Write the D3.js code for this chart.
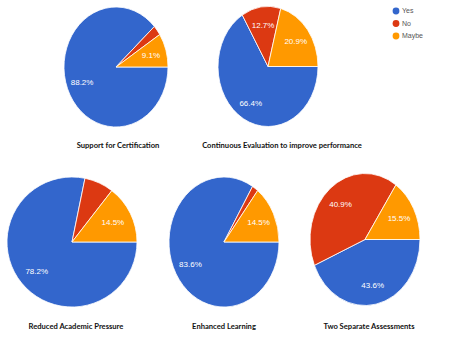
<!DOCTYPE html>
<html>
<head>
<meta charset="utf-8">
<script src="https://cdn.jsdelivr.net/npm/d3@7"></script>
<style>
  html, body { margin: 0; padding: 0; background: #ffffff; }
  svg { display: block; }
</style>
</head>
<body>
<svg id="chart" width="474" height="342"></svg>
<script>
// ---- data ----
const categories = ["Yes", "No", "Maybe"];
const chartTitles = [
  "Support  for Certification",
  "Continuous  Evaluation to improve performance",
  "Reduced Academic Pressure",
  "Enhanced Learning",
  "Two Separate Assessments"
];
const yesValues   = [88.2, 66.4, 78.2, 83.6, 43.6];
const noValues    = [2.7, 12.7, 7.3, 1.8, 40.9];
const maybeValues = [9.1, 20.9, 14.5, 14.5, 15.5];

// ---- layout / style ----
const colors = d3.scaleOrdinal().domain(categories).range(["#3366cc", "#dc3912", "#ff9900"]);
const layout = [
  { cx: 116, cy: 67,  rx: 52, ry: 60, tx: 118, ty: 148 },
  { cx: 268, cy: 66.5, rx: 50, ry: 60, tx: 282, ty: 148 },
  { cx: 72,  cy: 242, rx: 65, ry: 65, tx: 76,  ty: 329 },
  { cx: 224, cy: 242, rx: 55, ry: 65, tx: 224, ty: 329 },
  { cx: 365, cy: 239.5, rx: 55, ry: 66, tx: 369, ty: 329 }
];

const svg = d3.select("#chart");

const pie = d3.pie()
  .sort(null)
  .value(d => d.value)
  .startAngle(Math.PI / 2)
  .endAngle(Math.PI / 2 + 2 * Math.PI);

chartTitles.forEach((title, i) => {
  const L = layout[i];
  const data = categories.map((c, k) => ({
    cat: c,
    value: [yesValues, noValues, maybeValues][k][i]
  }));
  const arcs = pie(data);
  const R = L.ry;
  const arc = d3.arc().innerRadius(0).outerRadius(R);
  const labelArc = d3.arc().innerRadius(R * 0.7).outerRadius(R * 0.7);
  const sx = L.rx / L.ry;

  const g = svg.append("g")
    .attr("transform", `translate(${L.cx},${L.cy})`);

  g.append("g")
    .attr("transform", `scale(${sx},1)`)
    .selectAll("path")
    .data(arcs)
    .join("path")
    .attr("d", arc)
    .attr("fill", d => colors(d.data.cat))
    .attr("stroke", "#ffffff")
    .attr("stroke-width", 0.8)
    .attr("vector-effect", "non-scaling-stroke");

  g.selectAll("text.pct")
    .data(arcs.filter(d => d.data.value >= 8))
    .join("text")
    .attr("class", "pct")
    .attr("x", d => labelArc.centroid(d)[0] * sx)
    .attr("y", d => labelArc.centroid(d)[1])
    .attr("dy", "0.35em")
    .attr("text-anchor", "middle")
    .attr("fill", "#ffffff")
    .attr("font-family", "Arial, 'Liberation Sans', sans-serif")
    .attr("font-size", 8)
    .text(d => d.data.value.toFixed(1) + "%");

  svg.append("text")
    .attr("x", L.tx)
    .attr("y", L.ty)
    .attr("text-anchor", "middle")
    .attr("fill", "#111111")
    .attr("font-family", "Lato, sans-serif")
    .attr("font-weight", "bold")
    .attr("font-size", 7.6)
    .text(title);
});

// legend
const legend = svg.append("g").attr("transform", "translate(396,11)");
const items = legend.selectAll("g")
  .data(categories)
  .join("g")
  .attr("transform", (d, k) => `translate(0,${k * 12.5})`);
items.append("circle")
  .attr("r", 3.4)
  .attr("fill", d => colors(d));
items.append("text")
  .attr("x", 6)
  .attr("dy", "0.35em")
  .attr("fill", "#555555")
  .attr("font-family", "Arial, 'Liberation Sans', sans-serif")
  .attr("font-size", 7)
  .text(d => d);
</script>
</body>
</html>
